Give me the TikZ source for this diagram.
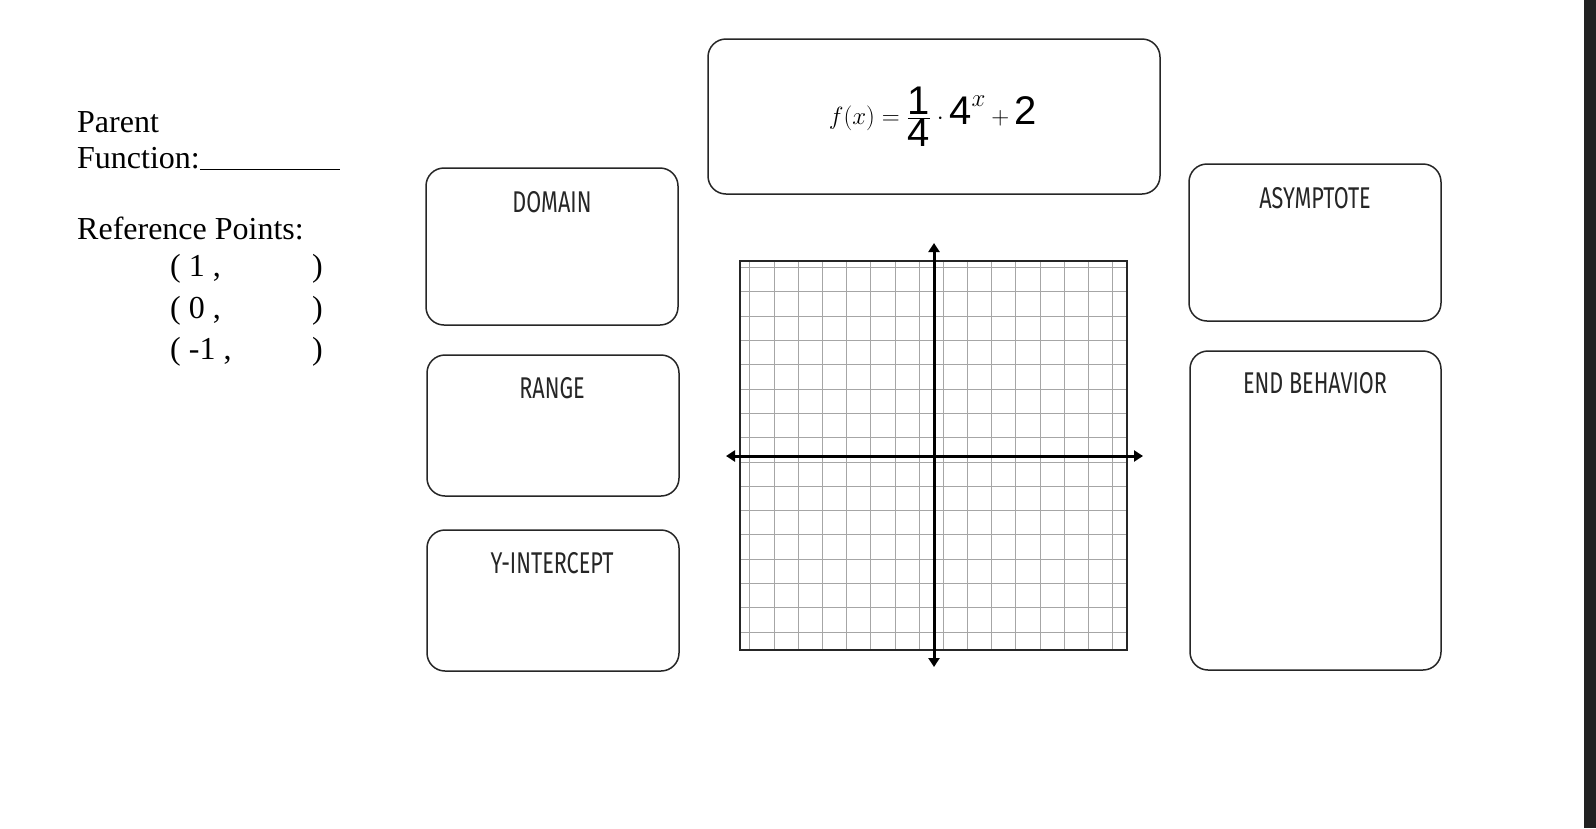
\documentclass[tikz,border=0pt]{standalone}
\usepackage{fontspec}
\setmainfont{Liberation Serif}
\newfontfamily\labfont{Fira Sans}
\newfontfamily\digfont{Liberation Sans}
\usetikzlibrary{arrows.meta}
\newcommand{\dg}[1]{\hbox{\digfont #1}}
\begin{document}
\begin{tikzpicture}[x=1pt,y=-1pt,
  card/.style={draw=black!85,line width=1.5pt,rounded corners=18pt},
  lab/.style={font=\labfont\fontsize{30}{30}\selectfont,xscale=0.72,text=black!85},
  lt/.style={anchor=base west,font=\fontsize{32}{34}\selectfont,inner sep=0pt},
  axis/.style={line width=3pt,{Triangle[length=9pt,width=11pt]}-{Triangle[length=9pt,width=11pt]}}]
\fill[white] (0,0) rectangle (1584,828);
\fill[black!87] (1584,0) rectangle (1596,828);
% left text
\node[lt] (t1) at (77,132) {Parent};
\node[lt] (t2) at (77,168) {Function:\rule[-2pt]{140pt}{1pt}};
\node[lt] (t3) at (77,239) {Reference Points:};
\node[lt] (p1) at (170,276) {( 1 ,};
\node[lt] (p1b) at (312,276) {)};
\node[lt] (p2) at (170,318) {( 0 ,};
\node[lt] (p2b) at (312,318) {)};
\node[lt] (p3) at (170,359) {( -1 ,};
\node[lt] (p3b) at (312,359) {)};
% cards
\draw[card] (708,39) rectangle (1160,194);
\node (f) at (933,117) {\fontsize{40}{40}\selectfont$f(x)=\frac{\dg{1}}{\dg{4}}\cdot\dg{4}^{x}+\dg{2}$};
\draw[card] (426,168) rectangle (678,325);
\node[lab] (d) at (552,202) {DOMAIN};
\draw[card] (427,355) rectangle (679,496);
\node[lab] (r) at (552,388) {RANGE};
\draw[card] (427,530) rectangle (679,671);
\node[lab] (y) at (552,563) {Y-INTERCEPT};
\draw[card] (1189,164) rectangle (1441,321);
\node[lab] (a) at (1315,198) {ASYMPTOTE};
\draw[card] (1190,351) rectangle (1441,670);
\node[lab] (e) at (1315,383) {END BEHAVIOR};
% grid
\draw[black!35,line width=0.8pt,xstep=24.1875pt,ystep=24.3125pt] (740,261) grid (1127,650);
\draw[black!85,line width=1.5pt] (740,261) rectangle (1127,650);
\coordinate (xl) at (726,456); \coordinate (xr) at (1143,456);
\coordinate (yt) at (934,243); \coordinate (yb) at (934,667);
\draw[axis] (xl) -- (xr);
\draw[axis] (yb) -- (yt);
\pgfresetboundingbox
\useasboundingbox (0,0) rectangle (1596,828);
\end{tikzpicture}
\end{document}
